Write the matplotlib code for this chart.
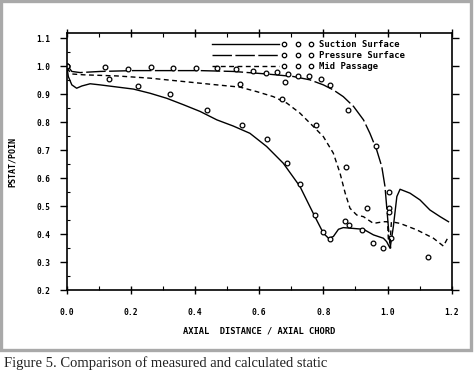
import numpy as np
import matplotlib
matplotlib.use("Agg")
import matplotlib.pyplot as plt
from matplotlib.lines import Line2D
from matplotlib.patches import Rectangle
from matplotlib.legend_handler import HandlerBase

# ---------------------------------------------------------------
# calculated curves
# ---------------------------------------------------------------
suc_x = [0.0, 0.005, 0.016, 0.031, 0.047, 0.073, 0.104, 0.208, 0.26, 0.312,
         0.364, 0.416, 0.468, 0.519, 0.571, 0.623, 0.675, 0.727, 0.758, 0.779,
         0.8, 0.816, 0.831, 0.847, 0.862, 0.894, 0.925, 0.956, 0.987, 0.997,
         1.008, 1.018, 1.029, 1.039, 1.07, 1.101, 1.132, 1.164, 1.19]
suc_y = [1.005, 0.963, 0.933, 0.921, 0.929, 0.937, 0.933, 0.918, 0.903, 0.885,
         0.862, 0.838, 0.808, 0.786, 0.760, 0.713, 0.653, 0.570, 0.498, 0.450,
         0.403, 0.385, 0.391, 0.417, 0.423, 0.420, 0.417, 0.397, 0.385, 0.373,
         0.349, 0.426, 0.534, 0.560, 0.546, 0.522, 0.486, 0.462, 0.444]

prs_x = [0.0, 0.016, 0.042, 0.104, 0.208, 0.312, 0.416, 0.519, 0.623, 0.706,
         0.758, 0.8, 0.831, 0.862, 0.894, 0.925, 0.945, 0.966, 0.982, 0.992,
         0.999, 1.006, 1.01]
prs_y = [1.005, 0.981, 0.977, 0.981, 0.984, 0.984, 0.984, 0.981, 0.972, 0.963,
         0.951, 0.933, 0.915, 0.891, 0.856, 0.808, 0.760, 0.701, 0.641, 0.570,
         0.474, 0.379, 0.349]

mid_x = [0.0, 0.016, 0.052, 0.156, 0.26, 0.364, 0.468, 0.54, 0.592, 0.644,
         0.686, 0.727, 0.769, 0.8, 0.831, 0.852, 0.868, 0.883, 0.904, 0.925,
         0.956, 0.987, 1.0, 1.003, 1.008, 1.012, 1.039, 1.091, 1.143, 1.174, 1.19]
mid_y = [0.993, 0.972, 0.969, 0.965, 0.957, 0.945, 0.933, 0.925, 0.909, 0.891,
         0.868, 0.832, 0.784, 0.748, 0.689, 0.617, 0.546, 0.492, 0.468, 0.462,
         0.438, 0.444, 0.444, 0.37, 0.37, 0.444, 0.438, 0.415, 0.385, 0.357, 0.391]

# ---------------------------------------------------------------
# measured points
# ---------------------------------------------------------------
suc_mx = [0.0, 0.221, 0.322, 0.436, 0.546, 0.623, 0.688, 0.727, 0.775, 0.8,
          0.821, 0.919, 0.956, 0.987, 1.011, 1.127]
suc_my = [1.0, 0.930, 0.901, 0.844, 0.790, 0.739, 0.654, 0.578, 0.467, 0.406,
          0.384, 0.413, 0.367, 0.350, 0.387, 0.319]

prs_mx = [0.0, 0.119, 0.19, 0.262, 0.332, 0.402, 0.468, 0.528, 0.582, 0.62,
          0.657, 0.689, 0.722, 0.756, 0.792, 0.821, 0.878, 0.963, 1.003, 1.003, 1.003]
prs_my = [1.0, 0.996, 0.989, 0.997, 0.994, 0.994, 0.992, 0.988, 0.982, 0.976,
          0.980, 0.971, 0.966, 0.964, 0.955, 0.933, 0.844, 0.713, 0.549, 0.492, 0.478]

mid_mx = [0.0, 0.133, 0.54, 0.671, 0.681, 0.777, 0.869, 0.866, 0.881, 0.935]
mid_my = [1.0, 0.953, 0.937, 0.884, 0.944, 0.788, 0.641, 0.445, 0.432, 0.494]

labels = ["Suction Surface", "Pressure Surface", "Mid Passage"]
styles = ["-", (0, (14, 2.5)), (0, (3.5, 2.5))]

mono = "DejaVu Sans Mono"


class LinePlusMarkers(HandlerBase):
    # line segment followed by three open circles, like the old plotter legend
    def __init__(self, style):
        super().__init__()
        self.style = style

    def create_artists(self, legend, orig, xd, yd, width, height, fontsize, trans):
        yc = height / 2 - yd
        x0 = -xd
        seg = Line2D([x0, x0 + 0.66 * width], [yc, yc], color="black",
                     lw=1.0, linestyle=self.style)
        mk = Line2D([x0 + 0.71 * width, x0 + 0.84 * width, x0 + 0.97 * width],
                    [yc] * 3, ls="none", marker="o", ms=3.2, mfc="white",
                    mec="black", mew=0.9)
        seg.set_transform(trans)
        mk.set_transform(trans)
        return [seg, mk]


fig = plt.figure(figsize=(4.74, 3.72), dpi=100)
ax = fig.add_axes([0.1407, 0.2204, 0.8123, 0.6906])

handles = []
hmap = {}
for xs, ys, mx, my, st in [(suc_x, suc_y, suc_mx, suc_my, styles[0]),
                           (prs_x, prs_y, prs_mx, prs_my, styles[1]),
                           (mid_x, mid_y, mid_mx, mid_my, styles[2])]:
    ln, = ax.plot(xs, ys, color="black", lw=1.0, linestyle=st)
    pt, = ax.plot(mx, my, ls="none", marker="o", ms=3.4, mfc="white",
                  mec="black", mew=0.9)
    handles.append(ln)
    hmap[ln] = LinePlusMarkers(st)

ax.set_xlim(0, 1.2)
ax.set_ylim(0.2, 1.118)
ax.set_xticks(np.arange(0, 1.21, 0.2))
ax.set_xticks(np.arange(0, 1.21, 0.1), minor=True)
ax.set_yticks(np.arange(0.2, 1.11, 0.1))
ax.set_yticks(np.arange(0.2, 1.11, 0.05), minor=True)
ax.set_xticklabels(["%.1f" % v for v in np.arange(0, 1.21, 0.2)])
ax.set_yticklabels(["%.1f" % v for v in np.arange(0.2, 1.11, 0.1)])

ax.tick_params(axis="y", which="major", direction="out", length=5, width=1.0,
               pad=7, right=True, labelsize=5.6)
ax.tick_params(axis="y", which="minor", direction="in", length=2, width=0.8,
               right=False)
ax.tick_params(axis="x", which="major", direction="inout", length=6, width=1.0,
               pad=10, top=True, labelsize=5.8)
ax.tick_params(axis="x", which="minor", direction="in", length=3, width=0.8,
               top=True)
for lab in ax.get_xticklabels() + ax.get_yticklabels():
    lab.set_fontfamily(mono)
    lab.set_fontweight("bold")
for sp in ax.spines.values():
    sp.set_linewidth(1.2)

ax.set_xlabel("AXIAL  DISTANCE / AXIAL CHORD", family=mono, weight="bold",
              fontsize=6.3, labelpad=7)
ax.set_ylabel("PSTAT/POIN", family=mono, weight="bold", fontsize=6.0,
              labelpad=14)

leg = ax.legend(handles, labels, loc="upper right", bbox_to_anchor=(0.9, 1.005),
                handler_map=hmap, handlelength=11.5,
                handletextpad=0.6, labelspacing=0.25, frameon=False,
                prop={"family": mono, "weight": "bold", "size": 6.4})

# scanned page frame + caption strip below it
fig.patches.append(Rectangle((0.002, 0.058), 0.992, 0.938, transform=fig.transFigure,
                             fill=False, ec="#a9a9a9", lw=2.4))
fig.text(0.008, 1 - 356 / 372, "Figure 5. Comparison of measured and calculated static",
         family="Liberation Serif", fontsize=10.5, va="top", ha="left", color="#222222")

fig.savefig("out.png", dpi=100)
